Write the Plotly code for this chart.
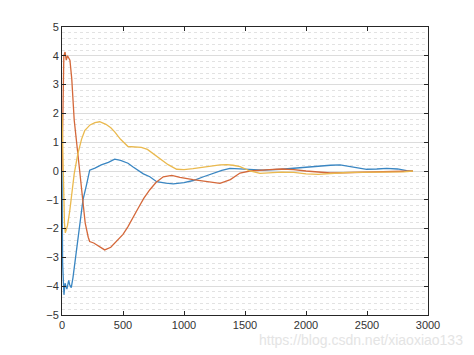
import plotly.graph_objects as go

# ---- data ----
blue_x = [0, 5, 16, 25, 40, 55, 63, 76, 90, 117, 158, 172, 200, 227, 270, 322, 380, 432, 480, 541,
          580, 623, 667, 720, 776, 850, 912, 1000, 1076, 1160, 1240, 1310, 1377, 1450, 1541, 1650,
          1800, 1950, 2087, 2200, 2279, 2360, 2443, 2497, 2580, 2661, 2750, 2825, 2877]
blue_y = [0, -3.2, -4.3, -3.9, -4.1, -3.8, -3.95, -4.05, -3.7, -2.74, -1.35, -1.0, -0.5, 0.03, 0.1,
          0.21, 0.3, 0.41, 0.37, 0.27, 0.15, 0.03, -0.1, -0.2, -0.37, -0.42, -0.45, -0.4, -0.33,
          -0.2, -0.08, 0.02, 0.09, 0.08, 0.06, 0.03, 0.06, 0.12, 0.17, 0.2, 0.21, 0.16, 0.09, 0.06,
          0.07, 0.09, 0.07, 0.01, 0.0]

red_x = [0, 8, 15, 25, 35, 45, 55, 65, 80, 100, 140, 172, 190, 215, 227, 260, 300, 350, 400, 459,
         500, 541, 580, 623, 670, 720, 770, 830, 900, 967, 1074, 1150, 1230, 1295, 1380, 1459, 1541,
         1620, 1700, 1800, 1900, 2000, 2100, 2200, 2300, 2400, 2500, 2600, 2700, 2800, 2877]
red_y = [0, 3.0, 4.0, 4.13, 3.85, 4.0, 3.9, 3.85, 3.2, 1.77, 0.2, -1.0, -1.8, -2.3, -2.45, -2.5,
         -2.62, -2.74, -2.65, -2.4, -2.2, -1.93, -1.65, -1.3, -0.95, -0.65, -0.4, -0.2, -0.15,
         -0.22, -0.3, -0.35, -0.4, -0.43, -0.3, -0.07, 0.0, 0.03, 0.05, 0.07, 0.05, 0.0, -0.04,
         -0.07, -0.06, -0.05, -0.05, -0.04, -0.03, -0.02, 0.0]

yellow_x = [0, 10, 20, 27, 45, 63, 80, 100, 130, 160, 186, 230, 270, 309, 360, 400, 432, 480, 541,
            600, 650, 700, 750, 803, 870, 940, 1000, 1074, 1150, 1220, 1295, 1350, 1402, 1459,
            1541, 1623, 1700, 1800, 1900, 2000, 2100, 2200, 2300, 2400, 2500, 2600, 2700, 2800, 2877]
yellow_y = [2.0, 0.0, -1.8, -2.15, -1.9, -1.4, -0.8, -0.1, 0.6, 1.1, 1.4, 1.6, 1.68, 1.71, 1.62,
            1.5, 1.36, 1.1, 0.85, 0.83, 0.82, 0.75, 0.6, 0.44, 0.22, 0.06, 0.05, 0.08, 0.13, 0.18,
            0.21, 0.22, 0.2, 0.15, 0.0, -0.08, -0.06, -0.04, -0.05, -0.1, -0.12, -0.08, -0.06,
            -0.05, -0.05, -0.04, -0.05, -0.03, 0.0]

x_ticks = [0, 500, 1000, 1500, 2000, 2500, 3000]
y_ticks = [-5, -4, -3, -2, -1, 0, 1, 2, 3, 4, 5]

fig = go.Figure()
for xs, ys, col in [(blue_x, blue_y, "#3a86c2"),
                    (red_x, red_y, "#d4683a"),
                    (yellow_x, yellow_y, "#eab94e")]:
    fig.add_trace(go.Scatter(x=xs, y=ys, mode="lines",
                             line=dict(color=col, width=1.3), showlegend=False))

axis_common = dict(showline=True, linecolor="#262626", linewidth=1, mirror="ticks",
                   ticks="inside", ticklen=4, tickcolor="#262626", zeroline=False,
                   tickfont=dict(family="Liberation Sans, Arial", size=11, color="#333333"))

fig.update_xaxes(range=[0, 3000], tickvals=x_ticks, showgrid=False, **axis_common)
fig.update_yaxes(range=[-5, 5], tickvals=y_ticks, showgrid=True, gridcolor="#dcdcdc",
                 gridwidth=1,
                 minor=dict(dtick=0.2, showgrid=True, gridcolor="#e2e2e2", griddash="dot",
                            ticks=""),
                 **axis_common)

fig.add_annotation(text="https://blog.csdn.net/xiaoxiao133", xref="paper", yref="paper",
                   x=1.10, y=-0.087, xanchor="right", yanchor="middle", showarrow=False,
                   font=dict(family="Liberation Sans, Arial", size=14, color="#e4e4e4"))

fig.update_layout(width=474, height=355, margin=dict(l=54, r=54, t=19, b=48),
                  paper_bgcolor="white", plot_bgcolor="white")

fig.write_html("out.html")
